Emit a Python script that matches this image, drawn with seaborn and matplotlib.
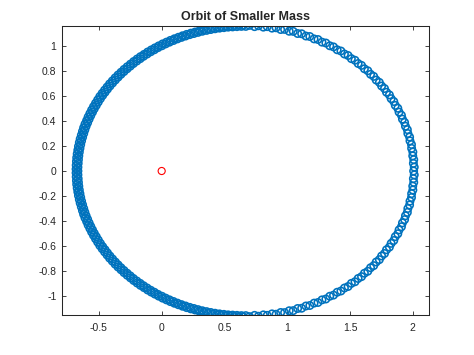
"""Orbit of the smaller mass, drawn as hollow markers around the larger mass."""

import matplotlib
matplotlib.use("Agg")
import matplotlib.pyplot as plt
import seaborn as sns

# Positions of the smaller mass.
# First loop, counter-clockwise from the right-hand end of the orbit.
orbit_x = [
    2.007, 2.005, 2.000, 1.991, 1.978, 1.961, 1.942, 1.918, 1.891, 1.861,
    1.828, 1.791, 1.752, 1.709, 1.664, 1.615, 1.565, 1.511, 1.456, 1.398,
    1.339, 1.277, 1.214, 1.149, 1.083, 1.016, 0.948, 0.879, 0.810, 0.740,
    0.670, 0.635, 0.600, 0.565, 0.530, 0.496, 0.461, 0.426, 0.392, 0.358,
    0.324, 0.290, 0.257, 0.224, 0.191, 0.158, 0.126, 0.094, 0.063, 0.032,
    0.002, -0.029, -0.058, -0.087, -0.116, -0.144, -0.171, -0.198, -0.225, -0.250,
    -0.275, -0.300, -0.324, -0.347, -0.369, -0.391, -0.412, -0.432, -0.451, -0.470,
    -0.488, -0.505, -0.521, -0.537, -0.551, -0.565, -0.578, -0.590, -0.602, -0.612,
    -0.621, -0.630, -0.638, -0.645, -0.651, -0.656, -0.660, -0.663, -0.665, -0.667,
    -0.667,
    -0.667, -0.665, -0.663, -0.660, -0.656, -0.651, -0.645, -0.638, -0.630, -0.621,
    -0.612, -0.602, -0.590, -0.578, -0.565, -0.551, -0.537, -0.521, -0.505, -0.488,
    -0.470, -0.451, -0.432, -0.412, -0.391, -0.369, -0.347, -0.324, -0.300, -0.275,
    -0.250, -0.225, -0.198, -0.171, -0.144, -0.116, -0.087, -0.058, -0.029, 0.002,
    0.032, 0.063, 0.094, 0.126, 0.158, 0.191, 0.224, 0.257, 0.290, 0.324,
    0.358, 0.392, 0.426, 0.461, 0.496, 0.530, 0.565, 0.600, 0.635,
    0.670, 0.740, 0.810, 0.879, 0.948, 1.016, 1.083, 1.149, 1.214, 1.277,
    1.339, 1.398, 1.456, 1.511, 1.565, 1.615, 1.664, 1.709, 1.752, 1.791,
    1.828, 1.861, 1.891, 1.918, 1.942, 1.961, 1.978, 1.991, 2.000, 2.005,
]
orbit_y = [
    0.000, 0.061, 0.121, 0.181, 0.241, 0.300, 0.358, 0.415, 0.471, 0.525,
    0.579, 0.630, 0.680, 0.728, 0.774, 0.818, 0.860, 0.899, 0.936, 0.970,
    1.002, 1.031, 1.057, 1.080, 1.100, 1.118, 1.132, 1.143, 1.151, 1.155,
    1.157, 1.157, 1.155, 1.153, 1.151, 1.147, 1.143, 1.138, 1.132, 1.125,
    1.118, 1.109, 1.100, 1.091, 1.080, 1.069, 1.057, 1.044, 1.031, 1.017,
    1.002, 0.987, 0.970, 0.954, 0.936, 0.918, 0.899, 0.880, 0.860, 0.839,
    0.818, 0.796, 0.774, 0.751, 0.728, 0.704, 0.680, 0.655, 0.630, 0.605,
    0.579, 0.552, 0.525, 0.498, 0.471, 0.443, 0.415, 0.386, 0.358, 0.329,
    0.300, 0.270, 0.241, 0.211, 0.181, 0.151, 0.121, 0.091, 0.061, 0.030,
    0.000,
    -0.030, -0.061, -0.091, -0.121, -0.151, -0.181, -0.211, -0.241, -0.270, -0.300,
    -0.329, -0.358, -0.386, -0.415, -0.443, -0.471, -0.498, -0.525, -0.552, -0.579,
    -0.605, -0.630, -0.655, -0.680, -0.704, -0.728, -0.751, -0.774, -0.796, -0.818,
    -0.839, -0.860, -0.880, -0.899, -0.918, -0.936, -0.954, -0.970, -0.987, -1.002,
    -1.017, -1.031, -1.044, -1.057, -1.069, -1.080, -1.091, -1.100, -1.109, -1.118,
    -1.125, -1.132, -1.138, -1.143, -1.147, -1.151, -1.153, -1.155, -1.157,
    -1.157, -1.155, -1.151, -1.143, -1.132, -1.118, -1.100, -1.080, -1.057, -1.031,
    -1.002, -0.970, -0.936, -0.899, -0.860, -0.818, -0.774, -0.728, -0.680, -0.630,
    -0.579, -0.525, -0.471, -0.415, -0.358, -0.300, -0.241, -0.181, -0.121, -0.061,
]

# Second, slightly wider loop whose markers fall between those of the first one
orbit2_x = [
    2.012, 2.008, 2.001, 1.990, 1.975, 1.957, 1.935, 1.910, 1.881, 1.849,
    1.814, 1.775, 1.734, 1.689, 1.642, 1.592, 1.540, 1.485, 1.428, 1.369,
    1.308, 1.245, 1.180, 1.115, 1.048, 0.979, 0.911, 0.841, 0.771, 0.700,
    0.647, 0.612, 0.577, 0.542, 0.507, 0.472, 0.437, 0.402, 0.368, 0.334,
    0.299, 0.266, 0.232, 0.199, 0.166, 0.133, 0.101, 0.069, 0.038, 0.007,
    -0.024, -0.054, -0.083, -0.112, -0.141, -0.169, -0.196, -0.223, -0.249, -0.275,
    -0.300, -0.324, -0.348, -0.371, -0.393, -0.415, -0.435, -0.455, -0.474, -0.493,
    -0.510, -0.527, -0.543, -0.558, -0.572, -0.586, -0.598, -0.611, -0.622, -0.631,
    -0.640, -0.649, -0.656, -0.663, -0.668, -0.673, -0.677, -0.679, -0.681, -0.682,
    -0.682, -0.681, -0.679, -0.677, -0.673, -0.668, -0.663, -0.656, -0.649, -0.640,
    -0.631, -0.622, -0.611, -0.598, -0.586, -0.572, -0.558, -0.543, -0.527, -0.510,
    -0.493, -0.474, -0.455, -0.435, -0.415, -0.393, -0.371, -0.348, -0.324, -0.300,
    -0.275, -0.249, -0.223, -0.196, -0.169, -0.141, -0.112, -0.083, -0.054, -0.024,
    0.007, 0.038, 0.069, 0.101, 0.133, 0.166, 0.199, 0.232, 0.266, 0.299,
    0.334, 0.368, 0.402, 0.437, 0.472, 0.507, 0.542, 0.577, 0.612, 0.647,
    0.700, 0.771, 0.841, 0.911, 0.979, 1.048, 1.115, 1.180, 1.245, 1.308,
    1.369, 1.428, 1.485, 1.540, 1.592, 1.642, 1.689, 1.734, 1.775, 1.814,
    1.849, 1.881, 1.910, 1.935, 1.957, 1.975, 1.990, 2.001, 2.008, 2.012,
]
orbit2_y = [
    0.031, 0.091, 0.152, 0.212, 0.272, 0.331, 0.389, 0.446, 0.502, 0.556,
    0.609, 0.660, 0.709, 0.757, 0.802, 0.845, 0.886, 0.924, 0.960, 0.993,
    1.024, 1.052, 1.076, 1.098, 1.117, 1.133, 1.146, 1.155, 1.162, 1.165,
    1.165, 1.164, 1.162, 1.160, 1.157, 1.153, 1.148, 1.143, 1.136, 1.129,
    1.121, 1.112, 1.103, 1.093, 1.082, 1.070, 1.058, 1.045, 1.031, 1.017,
    1.001, 0.985, 0.969, 0.952, 0.933, 0.915, 0.896, 0.876, 0.855, 0.834,
    0.813, 0.790, 0.768, 0.745, 0.721, 0.697, 0.672, 0.647, 0.622, 0.596,
    0.569, 0.542, 0.515, 0.488, 0.460, 0.432, 0.403, 0.375, 0.346, 0.317,
    0.287, 0.257, 0.228, 0.197, 0.167, 0.137, 0.107, 0.077, 0.046, 0.015,
    -0.015, -0.046, -0.077, -0.107, -0.137, -0.167, -0.197, -0.228, -0.257, -0.287,
    -0.317, -0.346, -0.375, -0.403, -0.432, -0.460, -0.488, -0.515, -0.542, -0.569,
    -0.596, -0.622, -0.647, -0.672, -0.697, -0.721, -0.745, -0.768, -0.790, -0.813,
    -0.834, -0.855, -0.876, -0.896, -0.915, -0.933, -0.952, -0.969, -0.985, -1.001,
    -1.017, -1.031, -1.045, -1.058, -1.070, -1.082, -1.093, -1.103, -1.112, -1.121,
    -1.129, -1.136, -1.143, -1.148, -1.153, -1.157, -1.160, -1.162, -1.164, -1.165,
    -1.165, -1.162, -1.155, -1.146, -1.133, -1.117, -1.098, -1.076, -1.052, -1.024,
    -0.993, -0.960, -0.924, -0.886, -0.845, -0.802, -0.757, -0.709, -0.660, -0.609,
    -0.556, -0.502, -0.446, -0.389, -0.331, -0.272, -0.212, -0.152, -0.091, -0.031,
]

# Position of the larger mass
center_x = [0.0]
center_y = [0.0]

x_ticks = [-0.5, 0, 0.5, 1, 1.5, 2]
x_tick_labels = ["-0.5", "0", "0.5", "1", "1.5", "2"]
y_ticks = [-1, -0.8, -0.6, -0.4, -0.2, 0, 0.2, 0.4, 0.6, 0.8, 1]
y_tick_labels = ["-1", "-0.8", "-0.6", "-0.4", "-0.2", "0", "0.2", "0.4", "0.6", "0.8", "1"]

sns.set_style("ticks")
plt.rcParams["font.family"] = ["Liberation Sans", "DejaVu Sans"]
plt.rcParams["axes.unicode_minus"] = False

fig = plt.figure(figsize=(4.74, 3.55), dpi=100)
ax = fig.add_axes([0.1308, 0.1127, 0.7736, 0.814])

blue = "#0072BD"
sns.scatterplot(x=orbit_x + orbit2_x, y=orbit_y + orbit2_y, ax=ax, marker="o", s=28,
                color=blue, facecolor="none", edgecolor=blue, linewidth=1.15, zorder=2)
sns.scatterplot(x=center_x, y=center_y, ax=ax, marker="o", s=26, color="#FF0000",
                facecolor="none", edgecolor="#FF0000", linewidth=0.8, zorder=3)

ax.set_xlim(-0.794, 2.127)
ax.set_ylim(-1.152, 1.16)
ax.set_xticks(x_ticks)
ax.set_xticklabels(x_tick_labels)
ax.set_yticks(y_ticks)
ax.set_yticklabels(y_tick_labels)

dark = "#262626"
for side in ["top", "right", "bottom", "left"]:
    ax.spines[side].set_visible(True)
    ax.spines[side].set_color(dark)
    ax.spines[side].set_linewidth(0.75)
ax.tick_params(axis="both", direction="in", length=3, width=0.6, colors=dark,
               labelsize=7.5, top=True, right=True)
ax.tick_params(axis="x", pad=6)
ax.tick_params(axis="y", pad=4)

ax.set_title("Orbit of Smaller Mass", fontsize=9, fontweight="bold", pad=4)

plt.savefig("out.png", dpi=100)
plt.close()
